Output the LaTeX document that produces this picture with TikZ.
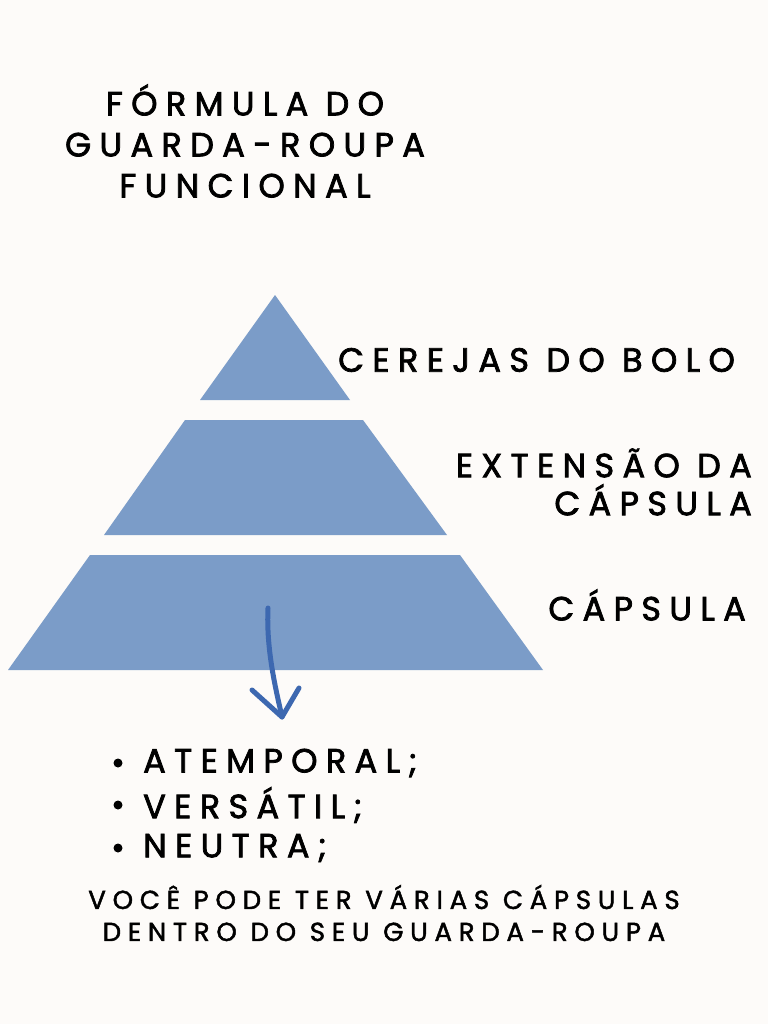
\documentclass[tikz,border=0pt]{standalone}
\usepackage{fontspec}
\newfontfamily\pop[LetterSpace=25,FakeBold=2.2]{Poppins}
\newfontfamily\pops[LetterSpace=26,FakeBold=1.8]{Poppins}
\definecolor{bg}{HTML}{FDFBF9}
\definecolor{pyr}{HTML}{7B9CC8}
\definecolor{arr}{HTML}{3D68B0}
\begin{document}
\begin{tikzpicture}[x=1pt,y=-1pt,
  lab/.style={font=\pop\fontsize{33.5}{38}\selectfont, inner sep=0pt},
  small/.style={font=\pops\fontsize{26}{32}\selectfont, inner sep=0pt, align=center}]
\fill[bg] (0,0) rectangle (768,1024);
\useasboundingbox (0,0) rectangle (768,1024);
\node[lab, align=center] (title) at (245,141) {FÓRMULA DO\\[3pt]GUARDA-ROUPA\\[3pt]FUNCIONAL};
\fill[pyr] (275,295) -- (350,400) -- (200,400) -- cycle;
\fill[pyr] (185,420) -- (363,420) -- (447,535) -- (104,535) -- cycle;
\fill[pyr] (90,555) -- (460,555) -- (543,670) -- (8,670) -- cycle;
\node[lab, anchor=west] (l1) at (338,360) {CEREJAS DO BOLO};
\node[lab, anchor=east, align=right] (l2) at (752,482) {EXTENSÃO DA\\CÁPSULA};
\node[lab, anchor=east] (l3) at (746,605) {CÁPSULA};
\coordinate (a0) at (268,608);
\coordinate (a1) at (282,717);
\draw[arr, line width=5pt, line cap=round, line join=round] (a0) .. controls (266,650) and (276,690) .. (a1);
\draw[arr, line width=5pt, line cap=round, line join=round] (252,690) -- (a1) -- (299,688);
\foreach \t/\y/\n in {ATEMPORAL;/763/b1, VERSÁTIL;/805/b2, NEUTRA;/848/b3}{
  \fill (118,\y) circle (4.5);
  \node[lab, anchor=west] (\n) at (143,\y) {\t};
}
\node[small] (foot) at (384,913) {VOCÊ PODE TER VÁRIAS CÁPSULAS\\DENTRO DO SEU GUARDA-ROUPA};
\end{tikzpicture}
\end{document}
